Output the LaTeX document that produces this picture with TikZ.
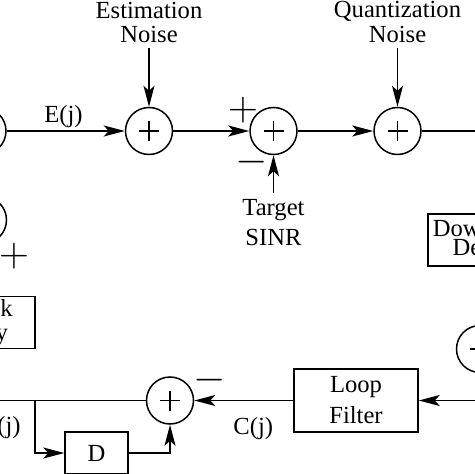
\documentclass[tikz,border=0pt]{standalone}
\usepackage{fontspec}
\setmainfont{Liberation Serif}
\usetikzlibrary{arrows.meta, positioning}
\newcommand{\txtsize}[1]{\fontsize{12.3}{#1}\selectfont}
\tikzstyle{adder} = [circle, draw, line width=0.75pt, minimum size=23.5pt, inner sep=0pt, path picture={\draw[line width=0.6pt] ([xshift=-5pt]path picture bounding box.center) -- ([xshift=5pt]path picture bounding box.center) ([yshift=-5pt]path picture bounding box.center) -- ([yshift=5pt]path picture bounding box.center);}]
\tikzstyle{block} = [rectangle, draw, line width=0.75pt, align=center, inner sep=0pt]
\tikzstyle{sign} = [inner sep=0pt, font=\fontsize{20}{20}\selectfont]
\tikzstyle{wire} = [line width=0.85pt, -{Stealth[length=10.5pt, width=5.5pt, inset=2.5pt]}]

\begin{document}
\begin{tikzpicture}[x=0.5pt, y=-0.5pt, font=\txtsize{12}]
\useasboundingbox (0,0) rectangle (474,474);
% summing points
\node (sa) [adder] at (-17.5,131) {};
\node (s1) [adder] at (149,131) {};
\node (s2) [adder] at (273.5,131) {};
\node (s3) [adder] at (397.5,131) {};
\node (sb) [adder] at (-17,220) {};
\node (sr) [adder] at (480,349) {};
\node (sc) [adder] at (170,400.5) {};
% blocks
\node (ul) [block, minimum width=56.5pt, minimum height=26pt, font=\txtsize{10}] at (-21.5,322.5) {Uplink\\Delay};
\node (dl) [block, minimum width=54pt, minimum height=26pt, font=\txtsize{9.5}] at (482,240) {Downlink\\Delay};
\node (lf) [block, minimum width=62pt, minimum height=31.5pt, font=\txtsize{15.5}] at (356,400.5) {Loop\\Filter};
\node (dd) [block, minimum width=31.5pt, minimum height=21pt] at (96.5,453) {D};
\coordinate (br) at (35,400.5);
% inputs and labels
\node (estn) [anchor=south, align=center, inner sep=2.5pt] at (149,48) {Estimation\\Noise};
\node (qntn) [anchor=south, align=center, inner sep=2.5pt, font=\txtsize{12.5}] at (397.5,48) {Quantization\\Noise};
\node (sinr) [anchor=north, align=center, inner sep=3pt, font=\txtsize{15}] at (273.5,193) {Target\\SINR};
\node (ej) [anchor=base, inner sep=0pt] at (63.5,123) {E(j)};
\node (cj) [anchor=base west, inner sep=0pt] at (233,434) {C(j)};
\node (pj) [anchor=base east, inner sep=0pt] at (21,433) {P(j)};
\node (p2) [sign] at (243,110) {$+$};
\node (m2) [sign] at (252,162) {$-$};
\node (pb) [sign] at (14,256) {$+$};
\node (mc) [sign] at (210,380) {$-$};
% connections
\draw [wire] (sa) -- (s1);
\draw [wire] (s1) -- (s2);
\draw [wire] (s2) -- (s3);
\draw [wire] (estn) -- (s1);
\draw [wire] (qntn) -- (s3);
\draw [wire] (sinr) -- (s2);
\draw [wire] (s3) -| (dl);
\draw [wire] (sr) |- (lf);
\draw [wire] (lf) -- (sc);
\draw [wire] (sc) -| (ul);
\draw [wire] (br) |- (dd);
\draw [wire] (dd) -| (sc);
\end{tikzpicture}
\end{document}
